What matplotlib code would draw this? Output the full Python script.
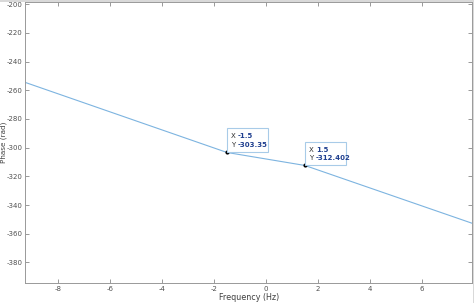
import matplotlib
matplotlib.use("Agg")
import matplotlib.pyplot as plt
from matplotlib.patches import Rectangle

plt.rcParams["axes.unicode_minus"] = False

freq = [-9.27, -1.5, 1.5, 7.94]
phase = [-254.5, -303.35, -312.402, -352.7]
tip_x = [-1.5, 1.5]
tip_y = [-303.35, -312.402]
tip_labels_y = ["-303.35", "-312.402"]
tip_labels_x = ["-1.5", "1.5"]
xticks = [-8, -6, -4, -2, 0, 2, 4, 6]
yticks = [-380, -360, -340, -320, -300, -280, -260, -240, -220, -200]

W, H = 474, 303
fig = plt.figure(figsize=(W / 100, H / 100), dpi=100, facecolor="white")
ax_left, ax_bottom = 25.3, 283.3
ax_w = 472 - ax_left
ax = fig.add_axes([ax_left / W, (H - ax_bottom) / H, ax_w / W, (ax_bottom - 2) / H])

line_color = "#7db4e0"
ax.plot(freq, phase, color=line_color, lw=0.8)
ax.plot(tip_x, tip_y, "o", color="black", ms=2, zorder=4)
ax.set_xlim(freq[0], freq[-1])
ax.set_ylim(-394.6, -198.4)
ax.set_xticks(xticks)
ax.set_yticks(yticks)
ax.tick_params(direction="in", length=3, width=0.6, colors="#888888",
               labelcolor="#505050", labelsize=5.0, top=True, right=True,
               labeltop=False, labelright=False, pad=2.2)
for s in ax.spines.values():
    s.set_color("#999999")
    s.set_linewidth(0.7)
ax.set_xlabel("Frequency (Hz)", fontsize=5.8, color="#404040", labelpad=0.8)
ax.set_ylabel("Phase (rad)", fontsize=5.2, color="#404040", va="center")
ax.yaxis.set_label_coords((4.0 - ax_left) / ax_w, 0.5)

fig.canvas.draw()
trans = ax.transData
for i, (x, y, lx, ly) in enumerate(zip(tip_x, tip_y, tip_labels_x, tip_labels_y)):
    px, py = trans.transform((x, y))
    bw = 41
    bh = 24 if i == 0 else 23
    rect = Rectangle((px, py), bw, bh, transform=None, facecolor="white",
                     edgecolor="#a8cbe8", lw=0.8, zorder=5)
    fig.add_artist(rect)
    fig.text((px + 4) / W, (py + bh - 7.5) / H, "X", fontsize=5, color="#303030",
             va="center", ha="left", zorder=6)
    fig.text((px + 11) / W, (py + bh - 7.5) / H, lx, fontsize=5, color="#1f3f8f",
             fontweight="bold", va="center", ha="left", zorder=6)
    fig.text((px + 4) / W, (py + 7.5) / H, "Y", fontsize=5, color="#303030",
             va="center", ha="left", zorder=6)
    fig.text((px + 11) / W, (py + 7.5) / H, ly, fontsize=5, color="#1f3f8f",
             fontweight="bold", va="center", ha="left", zorder=6)

# gray frame strips at top and right (cropped figure border)
fig.add_artist(Rectangle((0, (H - 1.5) / H), 1, 1.5 / H, transform=fig.transFigure,
                         facecolor="#d9d9d9", edgecolor="none"))
fig.add_artist(Rectangle((472.5 / W, 0), 1.5 / W, 1, transform=fig.transFigure,
                         facecolor="#d9d9d9", edgecolor="none"))

fig.savefig("out.png", dpi=100, facecolor="white")
